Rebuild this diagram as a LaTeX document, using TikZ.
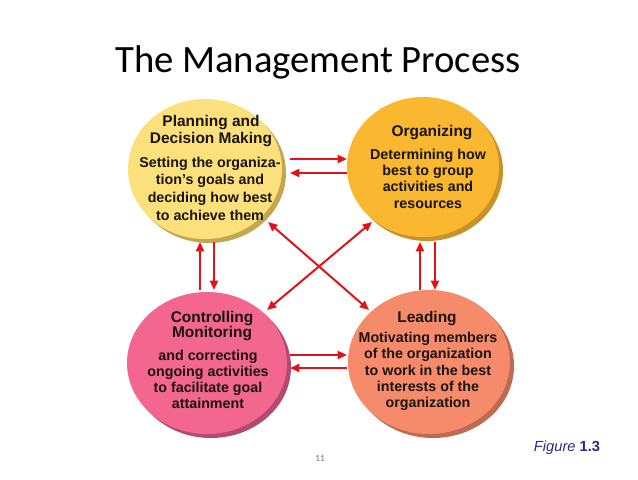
\documentclass[tikz,border=0pt]{standalone}
\usepackage{fontspec}
\setmainfont{Liberation Sans}
\newfontfamily\titlefont{Carlito}
\usetikzlibrary{shapes.geometric,arrows.meta,calc,shadows}
\definecolor{arrowred}{HTML}{E01418}
\definecolor{textdark}{HTML}{1A1410}
\definecolor{planfill}{HTML}{FBE07C}
\definecolor{planshad}{HTML}{C4A650}
\definecolor{orgfill}{HTML}{F9B830}
\definecolor{orgshad}{HTML}{C8922A}
\definecolor{ctrlfill}{HTML}{F26690}
\definecolor{ctrlshad}{HTML}{B44A6E}
\definecolor{leadfill}{HTML}{F68B6B}
\definecolor{leadshad}{HTML}{BE6A50}
\definecolor{figblue}{HTML}{2A2A80}
\begin{document}
\begin{tikzpicture}[x=0.75pt,y=-0.75pt,
  bubble/.style 2 args={ellipse, inner sep=0pt, draw=none, fill=#1,
    drop shadow={shadow xshift=3pt, shadow yshift=-3pt, fill=#2, opacity=1}},
  arr/.style={draw=arrowred, line width=1.5pt, -{Triangle[length=7pt,width=6pt]}},
  darr/.style={draw=arrowred, line width=1.5pt, {Triangle[length=7pt,width=6pt]}-{Triangle[length=7pt,width=6pt]}},
  txt/.style={font=\bfseries\fontsize{10.7}{#1}\selectfont, align=center, text=textdark, inner sep=0pt},
  hd/.style={font=\bfseries\fontsize{11.6}{#1}\selectfont, align=center, text=textdark, inner sep=0pt},
]
\useasboundingbox[fill=white] (0,0) rectangle (638,479);

% title
\node[anchor=base, font=\titlefont\fontsize{29}{34}\selectfont, inner sep=0pt] (title) at (318,72) {The Management Process};

% bubbles
\node[bubble={planfill}{planshad}, minimum width=115.5pt, minimum height=105pt] (P) at (205,169) {};
\node[bubble={orgfill}{orgshad}, minimum width=114pt, minimum height=105pt] (O) at (423,167) {};
\node[bubble={ctrlfill}{ctrlshad}, minimum width=120pt, minimum height=106.5pt] (C) at (207,363) {};
\node[bubble={leadfill}{leadshad}, minimum width=121.5pt, minimum height=108pt] (L) at (429,362) {};

% texts
\node[hd=12.75pt] (Ph) at (211,131.5) {Planning and\\Decision Making};
\node[txt=13.3pt] (Pb) at (210,188.5) {Setting the organiza-\\tion’s goals and\\deciding how best\\to achieve them};
\node[hd=12.2pt] (Oh) at (432,133) {Organizing};
\node[txt=12.2pt] (Ob) at (428,178.5) {Determining how\\best to group\\activities and\\resources};
\node[hd=11.25pt] (Ch) at (212,326.5) {Controlling\\Monitoring};
\node[txt=12pt] (Cb) at (208,379) {and correcting\\ongoing activities\\to facilitate goal\\attainment};
\node[hd=12.2pt] (Lh) at (427,319) {Leading};
\node[txt=12.2pt] (Lb) at (428,371.5) {Motivating members\\of the organization\\to work in the best\\interests of the\\organization};

% horizontal arrows
\draw[arr] ($(P.center)+(85,-10)$) -- ($(O.center)+(-76,-8)$);
\draw[arr] ($(O.center)+(-76,6)$) -- ($(P.center)+(85,4)$);
\draw[arr] ($(C.center)+(83,-8)$) -- ($(L.center)+(-82,-7)$);
\draw[arr] ($(L.center)+(-82,6)$) -- ($(C.center)+(83,5)$);

% vertical arrows
\draw[arr] ($(C.center)+(-7,-73)$) -- ($(P.center)+(-5,73)$);
\draw[arr] ($(P.center)+(9,73)$) -- ($(C.center)+(7,-73)$);
\draw[arr] ($(L.center)+(-9,-72)$) -- ($(O.center)+(-3,75)$);
\draw[arr] ($(O.center)+(12,75)$) -- ($(L.center)+(6,-72)$);

% diagonal arrows
\draw[darr] ($(P.center)+(63,53)$) -- ($(L.center)+(-60,-52)$);
\draw[darr] ($(O.center)+(-51,55)$) -- ($(C.center)+(60,-53)$);

% footer
\node[font=\titlefont\fontsize{7}{8}\selectfont, text=black!55, inner sep=0pt] (pg) at (320,458) {11};
\node[font=\fontsize{11}{13}\selectfont, text=figblue, inner sep=0pt] (fig) at (567,448) {\textit{Figure} \textbf{1.3}};
\end{tikzpicture}
\end{document}
